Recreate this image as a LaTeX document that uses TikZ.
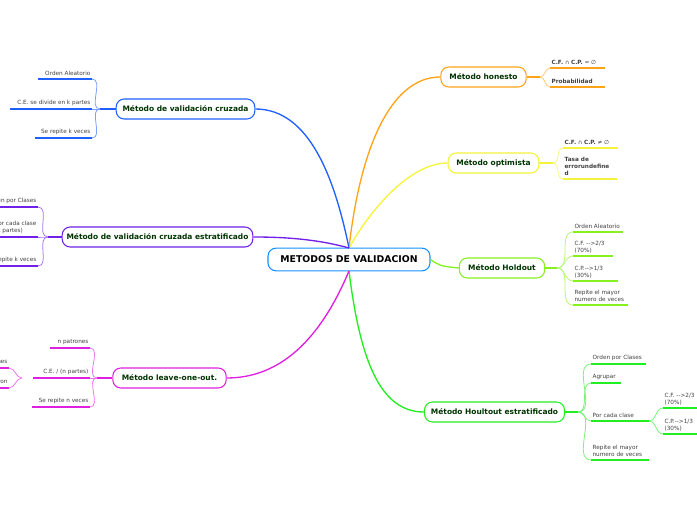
\documentclass[tikz,border=0pt]{standalone}
\usepackage{fontspec}
\setmainfont{DejaVu Sans}
\begin{document}
\begin{tikzpicture}[x=0.75pt,y=-0.75pt,
  mainbox/.style={draw=#1,line width=0.8pt,rounded corners=6pt,fill=white,text=black!80!green,font=\fontsize{5.6}{6.5}\selectfont\bfseries,inner sep=0pt},
  conn/.style={draw=#1,line width=1pt},
  lconn/.style={draw=#1!60,line width=0.6pt},
  uline/.style={draw=#1,line width=1.2pt},
  ltext/.style={font=\fontsize{4.3}{5.4}\selectfont,text=black!75,inner sep=1pt,align=left}]
\useasboundingbox (0,0) rectangle (697,520);
\clip (0,0) rectangle (697,520);
\definecolor{cor}{HTML}{FFA318}\definecolor{cye}{HTML}{F4F43A}\definecolor{cho}{HTML}{86F020}
\definecolor{chs}{HTML}{22EE22}\definecolor{cbl}{HTML}{2060FF}\definecolor{cpu}{HTML}{7020E8}\definecolor{cmg}{HTML}{E020E0}
\newcommand\lf[6]{\coordinate (#1) at (#2,#3);
  \draw[uline=#5] (#1) -- ++(#4,0);
  \node[ltext,anchor=south west] (#1t) at ([yshift=1pt]#1) {#6};}
\newcommand\lfl[6]{\coordinate (#1) at (#2,#3);
  \draw[uline=#5] (#1) -- ++(-#4,0);
  \node[ltext,anchor=south east,align=left] (#1t) at ([yshift=1pt]#1) {#6};}
% center
\node[draw=cbl!70!cyan,line width=0.8pt,rounded corners=6pt,minimum width=121.5pt,minimum height=17pt,inner sep=0pt,font=\fontsize{7}{8}\selectfont\bfseries] (c) at (349,259.5) {METODOS DE VALIDACION};
\coordinate (cN) at (349,248);\coordinate (cS) at (349,271);
% main nodes
\node[mainbox=cor,minimum width=64pt,minimum height=15pt] (hon) at (483.5,77) {Método honesto};
\node[mainbox=cye,minimum width=68pt,minimum height=15pt] (opt) at (493.5,163) {Método optimista};
\node[mainbox=cho,minimum width=64pt,minimum height=15pt] (hol) at (502,268) {Método Holdout};
\node[mainbox=chs,minimum width=105pt,minimum height=15pt] (hst) at (494.5,412) {Método Houltout estratificado};
\node[mainbox=cbl,minimum width=104pt,minimum height=15pt] (vc) at (185.5,109) {Método de validación cruzada};
\node[mainbox=cpu,minimum width=143pt,minimum height=15pt] (vce) at (157.5,237) {Método de validación cruzada estratificado};
\node[mainbox=cmg,minimum width=85pt,minimum height=15pt] (loo) at (169.5,378) {Método leave-one-out.};
% center connectors
\draw[conn=cor] (cN) .. controls (360,150) and (390,77) .. (hon.west);
\draw[conn=cye] (cN) .. controls (370,210) and (410,163) .. (opt.west);
\draw[conn=cho] (c.east) .. controls (440,266) .. (hol.west);
\draw[conn=chs] (cS) .. controls (360,360) and (380,412) .. (hst.west);
\draw[conn=cbl] (cN) .. controls (335,180) and (310,109) .. (vc.east);
\draw[conn=cpu] (cN) .. controls (320,240) and (290,237) .. (vce.east);
\draw[conn=cmg] (cS) .. controls (320,340) and (280,378) .. (loo.east);
% honesto
\coordinate (hb) at (540,77); \draw[conn=cor] (hon.east) -- (hb);
\lf{h1}{550}{68}{55}{cor}{\textbf{C.F.} ∩ \textbf{C.P.} = ∅}
\lf{h2}{550}{87}{55}{cor}{\textbf{Probabilidad}}
\draw[lconn=cor] (hb) to[out=0,in=180] (h1); \draw[lconn=cor] (hb) to[out=0,in=180] (h2);
% optimista
\coordinate (ob) at (553,163); \draw[conn=cye] (opt.east) -- (ob);
\lf{o1}{563}{148}{55}{cye}{\textbf{C.F.} ∩ \textbf{C.P.} ≠ ∅}
\lf{o2}{563}{179}{54}{cye}{\textbf{Tasa de}\\\textbf{errorundefine}\\\textbf{d}}
\draw[lconn=cye] (ob) to[out=0,in=180] (o1); \draw[lconn=cye] (ob) to[out=0,in=180] (o2);
% holdout
\coordinate (holb) at (557,268); \draw[conn=cho] (hol.east) -- (holb);
\lf{d1}{573}{232}{50}{cho}{Orden Aleatorio}
\lf{d2}{573}{256}{40}{cho}{C.F. {-}{-}>2/3\\(70\%)}
\lf{d3}{573}{281}{45}{cho}{C.P.{-}{-}>1/3\\(30\%)}
\lf{d4}{573}{305}{55}{cho}{Repite el mayor\\numero de veces}
\foreach \l in {d1,d2,d3,d4}{\draw[lconn=cho] (holb) to[out=0,in=180] (\l);}
% houltout estratificado
\coordinate (hsb) at (578,412); \draw[conn=chs] (hst.east) -- (hsb);
\lf{s1}{591}{364}{55}{chs}{Orden por Clases}
\lf{s2}{591}{383}{30}{chs}{Agrupar}
\lf{s3}{591}{421}{58}{chs}{Por cada clase}
\lf{s4}{591}{460}{58}{chs}{Repite el mayor\\numero de veces}
\foreach \l in {s1,s2,s3,s4}{\draw[lconn=chs] (hsb) to[out=0,in=180] (\l);}
\coordinate (s3b) at (649,421);
\lf{s31}{663}{408}{40}{chs}{C.F. {-}{-}>2/3\\(70\%)}
\lf{s32}{663}{434}{40}{chs}{C.P.{-}{-}>1/3\\(30\%)}
\draw[lconn=chs] (s3b) to[out=0,in=180] (s31); \draw[lconn=chs] (s3b) to[out=0,in=180] (s32);
% validacion cruzada
\coordinate (vcb) at (100,109); \draw[conn=cbl] (vc.west) -- (vcb);
\lfl{v1}{92}{79}{54}{cbl}{Orden Aleatorio}
\lfl{v2}{92}{109}{82}{cbl}{C.E. se divide en k partes}
\lfl{v3}{92}{138}{57}{cbl}{Se repite k veces}
\foreach \l in {v1,v2,v3}{\draw[lconn=cbl] (vcb) to[out=180,in=0] (\l);}
% estratificado
\coordinate (veb) at (48,237); \draw[conn=cpu] (vce.west) -- (veb);
\lfl{e1}{38}{207}{45}{cpu}{Orden por Clases}
\lfl{e2}{38}{237}{45}{cpu}{Por cada clase\\(k partes)}
\lfl{e3}{38}{266}{45}{cpu}{Se repite k veces}
\foreach \l in {e1,e2,e3}{\draw[lconn=cpu] (veb) to[out=180,in=0] (\l);}
% leave one out
\coordinate (lb) at (97,378); \draw[conn=cmg] (loo.west) -- (lb);
\lfl{m1}{90}{348}{40}{cmg}{n patrones}
\lfl{m2}{90}{378}{57}{cmg}{C.E. / (n partes)}
\lfl{m3}{90}{407}{58}{cmg}{Se repite n veces}
\foreach \l in {m1,m2,m3}{\draw[lconn=cmg] (lb) to[out=180,in=0] (\l);}
\coordinate (m2b) at (22,378);
\lfl{m21}{9}{368}{20}{cmg}{n-1 patrones}
\lfl{m22}{9}{388}{20}{cmg}{1 patron}
\draw[lconn=cmg] (m2b) to[out=180,in=0] (m21); \draw[lconn=cmg] (m2b) to[out=180,in=0] (m22);
\end{tikzpicture}
\end{document}
